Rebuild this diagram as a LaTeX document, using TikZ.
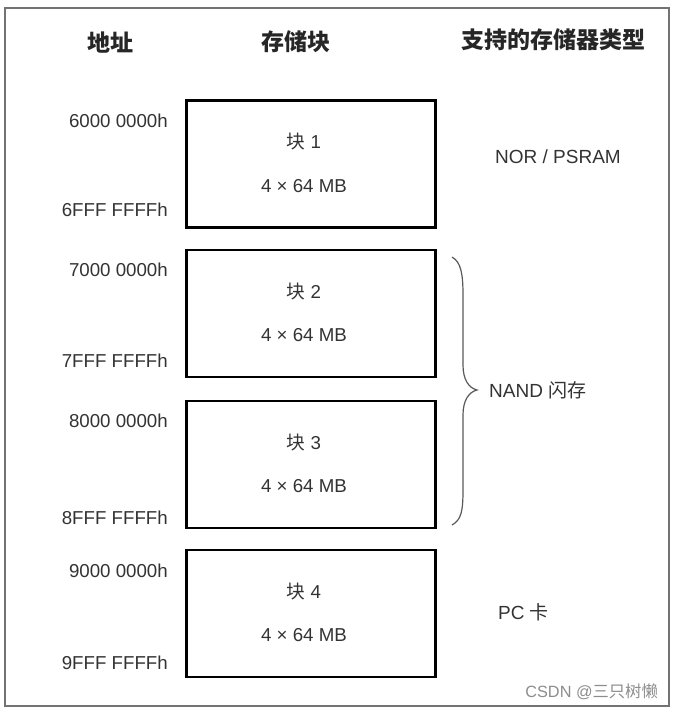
\documentclass[tikz,border=0pt]{standalone}
\usepackage{fontspec}
\setmainfont{Liberation Sans}
\newfontfamily\cjk{Noto Sans CJK SC}
\begin{document}
\begin{tikzpicture}[x=1pt,y=-1pt,
  blockbox/.style={draw=black,line width=2.4pt,minimum width=249pt,minimum height=127pt,inner sep=0pt},
  addr/.style={anchor=east,text=black!80,font=\fontsize{18.7}{21}\selectfont,inner sep=0pt},
  head/.style={text=black!85,font=\cjk\bfseries\fontsize{23}{26}\selectfont,inner sep=0pt},
  intext/.style={text=black!80,font=\fontsize{18.7}{21}\selectfont,inner sep=0pt},
  kind/.style={text=black!80,font=\fontsize{19}{21}\selectfont,inner sep=0pt,anchor=west}]
\useasboundingbox (0,0) rectangle (674,710);
\draw[black!55,line width=1.6pt] (5,8) rectangle (669,706);
% headings
\node[head] (h1) at (110,43) {地址};
\node[head] (h2) at (296,42) {存储块};
\node[head] (h3) at (553,40) {支持的存储器类型};
% blocks
\node[blockbox] (b1) at (311,164) {};
\node[blockbox] (b2) at (311,313.5) {};
\node[blockbox] (b3) at (311,464.5) {};
\node[blockbox] (b4) at (311,613.5) {};
\foreach \i/\y in {1/164,2/313.5,3/464.5,4/613.5}{
  \node[intext] (k\i) at (304,\y-22) {{\cjk 块} \i};
  \node[intext] (m\i) at (304,\y+22) {4 × 64 MB};
}
% addresses
\node[addr] (a1) at (168,121) {6000 0000h};
\node[addr] (a2) at (168,210) {6FFF FFFFh};
\node[addr] (a3) at (168,270) {7000 0000h};
\node[addr] (a4) at (168,361) {7FFF FFFFh};
\node[addr] (a5) at (168,421) {8000 0000h};
\node[addr] (a6) at (168,518) {8FFF FFFFh};
\node[addr] (a7) at (168,571) {9000 0000h};
\node[addr] (a8) at (168,663) {9FFF FFFFh};
% memory types
\node[kind] (t1) at (495,157) {NOR / PSRAM};
\node[kind] (t2) at (489,390) {NAND {\cjk 闪存}};
\node[kind] (t3) at (498,612) {PC {\cjk 卡}};
% brace
\coordinate (bt) at (452,257);
\coordinate (bm) at (477,390);
\coordinate (bb) at (452,525);
\draw[black!65,line width=1.2pt] (bt) .. controls (461,262) and (463,274) .. (463,295) -- (463,365)
  .. controls (463,380) and (469,388) .. (bm)
  .. controls (469,392) and (463,400) .. (463,415) -- (463,490)
  .. controls (463,512) and (461,520) .. (bb);
% watermark
\node[text=black!45,font=\fontsize{16.3}{18}\selectfont,inner sep=0pt,anchor=east] (wm) at (658,692) {CSDN @{\cjk 三只树懒}};
\end{tikzpicture}
\end{document}
